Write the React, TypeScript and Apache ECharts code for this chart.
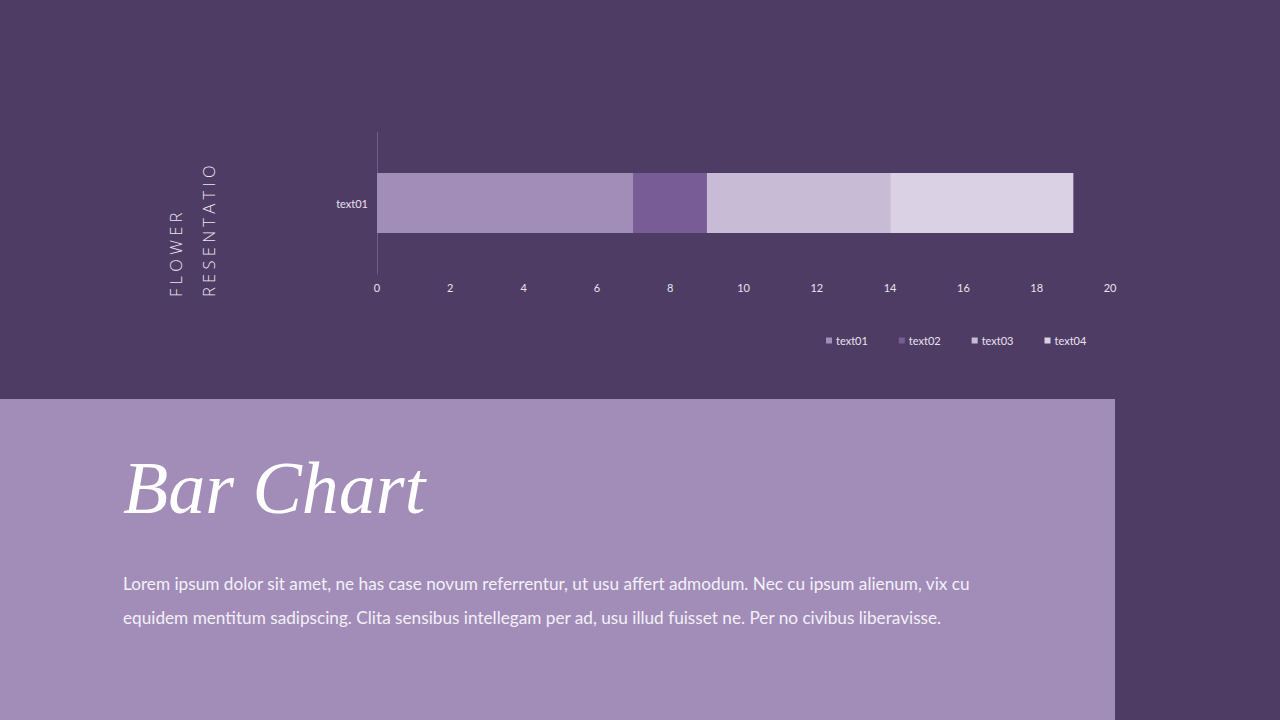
import React, { useEffect, useRef } from "react";
import * as echarts from "echarts";

const categories = ["text01"];
const seriesNames = ["text01", "text02", "text03", "text04"];
const seriesValues = [[7], [2], [5], [5]];
const seriesColors = ["#A28DB8", "#785C96", "#C8BBD6", "#DAD1E4"];
const xTicks = { min: 0, max: 20, interval: 2 };

const titleText = "Bar Chart";
const bodyText =
  "Lorem ipsum dolor sit amet, ne has case novum referrentur, ut usu affert admodum. Nec cu ipsum alienum, vix cu\nequidem mentitum sadipscing. Clita sensibus intellegam per ad, usu illud fuisset ne. Per no civibus liberavisse.";
const sideText1 = "F L O W E R";
const sideText2 = "R E S E N T A T I O";

export default function App() {
  const ref = useRef<HTMLDivElement>(null);
  useEffect(() => {
    document.body.style.margin = "0";
    const chart = echarts.init(ref.current!, null, { renderer: "svg" });
    const labelColor = "#E9E2F0";
    chart.setOption({
      animation: false,
      backgroundColor: "#4F3C64",
      textStyle: { fontFamily: "Lato, 'Open Sans', sans-serif" },
      grid: { left: 377, right: 170, top: 132, height: 142, containLabel: false },
      xAxis: {
        type: "value",
        min: xTicks.min,
        max: xTicks.max,
        interval: xTicks.interval,
        axisLine: { show: false },
        axisTick: { show: false },
        splitLine: { show: false },
        axisLabel: { color: labelColor, fontSize: 11, margin: 8 },
      },
      yAxis: {
        type: "category",
        data: categories,
        axisLine: { show: true, lineStyle: { color: "#715C8B", width: 1 } },
        axisTick: { show: false },
        axisLabel: { color: labelColor, fontSize: 11, margin: 9 },
      },
      legend: {
        data: seriesNames,
        left: 821,
        top: 330,
        itemWidth: 6,
        itemHeight: 6,
        itemGap: 31,
        icon: "rect",
        textStyle: { color: labelColor, fontSize: 11, padding: [0, 0, 0, -1] },
      },
      series: seriesNames.map((name, i) => ({
        name,
        type: "bar",
        stack: "total",
        barWidth: 60,
        data: seriesValues[i],
        itemStyle: { color: seriesColors[i] },
      })),
      graphic: [
        {
          type: "rect",
          shape: { x: 0, y: 399, width: 1115, height: 321 },
          style: { fill: "#A18DB8" },
          z: -1,
        },
        {
          type: "text",
          x: 175,
          y: 297,
          rotation: Math.PI / 2,
          style: {
            text: sideText1,
            fill: "#EDE7F3",
            fontSize: 16.5,
            fontWeight: 300,
            fontFamily: "'Open Sans', sans-serif",
            textAlign: "left",
            textVerticalAlign: "middle",
          },
        },
        {
          type: "text",
          x: 208,
          y: 297,
          rotation: Math.PI / 2,
          style: {
            text: sideText2,
            fill: "#EDE7F3",
            fontSize: 16.5,
            fontWeight: 300,
            fontFamily: "'Open Sans', sans-serif",
            textAlign: "left",
            textVerticalAlign: "middle",
          },
        },
        {
          type: "text",
          x: 123,
          y: 488,
          style: {
            text: titleText,
            fill: "#FFFFFF",
            fontSize: 74,
            fontStyle: "italic",
            fontFamily: "cursive, 'Liberation Serif', serif",
            textAlign: "left",
            textVerticalAlign: "middle",
          },
        },
        {
          type: "text",
          x: 123,
          y: 566,
          style: {
            text: bodyText,
            fill: "#F4F0F8",
            fontSize: 17.2,
            lineHeight: 34,
            fontFamily: "Lato, sans-serif",
            textAlign: "left",
            textVerticalAlign: "top",
          },
        },
      ],
    });
    return () => chart.dispose();
  }, []);
  return (
    <div
      ref={ref}
      style={{ position: "fixed", left: 0, top: 0, width: 1280, height: 720 }}
    />
  );
}
